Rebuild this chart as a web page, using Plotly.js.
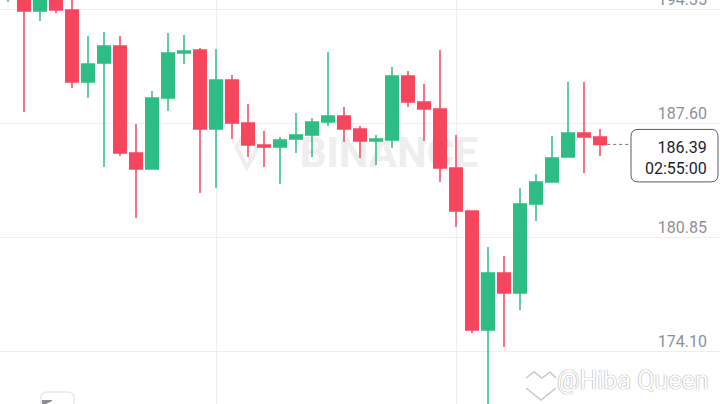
<!DOCTYPE html>
<html>
<head>
<meta charset="utf-8">
<script src="https://cdn.plot.ly/plotly-3.0.1.min.js"></script>
<style>html,body{margin:0;padding:0;background:#fff;}#chart{width:720px;height:404px;}</style>
</head>
<body>
<div id="chart"></div>
<script>
// Candle index (one per 5-minute bar)
const candleIndex = [0,1,2,3,4,5,6,7,8,9,10,11,12,13,14,15,16,17,18,19,20,21,22,23,24,25,26,27,28,29,30,31,32,33,34,35,36,37];
const openPrices  = [195.42,196.13,194.29,195.53,194.35,190.09,191.21,192.22,185.88,184.94,189.14,191.80,191.98,187.30,190.21,187.66,186.36,186.24,186.71,186.95,187.72,188.07,187.30,186.59,186.65,190.44,188.90,188.49,184.99,182.45,175.40,178.78,177.59,182.86,184.17,185.65,187.07,186.83];
const highPrices  = [196.84,196.60,196.01,195.77,195.30,192.81,193.05,192.81,187.60,189.55,192.99,192.87,192.10,192.04,190.50,188.78,187.19,186.83,188.25,187.96,191.86,188.61,187.48,186.95,190.97,190.74,189.97,191.98,186.95,182.45,180.32,179.78,183.81,184.64,186.89,190.09,190.09,187.30];
const lowPrices   = [194.82,188.31,193.70,194.17,189.73,189.14,185.05,185.71,182.03,184.94,188.37,191.15,183.51,183.81,186.71,185.65,185.05,184.05,185.88,185.65,187.48,186.53,185.59,185.17,186.18,188.61,186.59,184.17,181.50,175.22,170.67,174.40,176.59,181.86,184.17,185.65,184.70,185.71];
const closePrices = [196.42,194.29,195.65,194.35,190.09,191.15,192.22,185.88,184.94,189.14,191.80,191.92,187.30,190.21,187.66,186.36,186.24,186.65,186.95,187.72,188.07,187.30,186.59,186.71,190.44,188.90,188.49,184.99,182.45,175.40,178.78,177.59,182.86,184.17,185.59,187.07,186.83,186.39];
const priceTicks = [174.10, 180.85, 187.60, 194.35];
const countdownText = "02:55:00";
const watermarkText = "BINANCE";
const authorText = "@Hiba Queen";

const GREEN = "#2EBD85", RED = "#F6465D";
const lastI = candleIndex.length - 1;
const lastClose = closePrices[lastI];

const trace = {
  type: "candlestick",
  x: candleIndex, open: openPrices, high: highPrices, low: lowPrices, close: closePrices,
  increasing: {line: {color: GREEN, width: 1.5}, fillcolor: GREEN},
  decreasing: {line: {color: RED, width: 1.5}, fillcolor: RED},
  whiskerwidth: 0,
  hoverinfo: "skip",
  showlegend: false
};

function roundRect(x0, y0, x1, y1, r) {
  return `M ${x0+r} ${y0} L ${x1-r} ${y0} Q ${x1} ${y0} ${x1} ${y0-r} L ${x1} ${y1+r} Q ${x1} ${y1} ${x1-r} ${y1} L ${x0+r} ${y1} Q ${x0} ${y1} ${x0} ${y1+r} L ${x0} ${y0-r} Q ${x0} ${y0} ${x0+r} ${y0} Z`;
}

const layout = {
  width: 720, height: 404,
  margin: {l: 0, r: 0, t: 0, b: 0, pad: 0},
  paper_bgcolor: "#ffffff", plot_bgcolor: "#ffffff",
  boxgap: 0.22, boxgroupgap: 0,
  showlegend: false,
  font: {family: "Roboto, sans-serif"},
  xaxis: {
    range: [-0.5, 44.5], rangeslider: {visible: false},
    tickvals: [13, 28], showticklabels: false, ticks: "",
    showgrid: true, gridcolor: "#eeeeee", gridwidth: 1,
    zeroline: false, showline: false, fixedrange: true
  },
  yaxis: {
    range: [171.02, 194.94], side: "right",
    tickvals: priceTicks, ticktext: priceTicks.map(v => v.toFixed(2)),
    ticklabelposition: "inside", ticklabeloverflow: "allow", ticks: "",
    ticklabelstandoff: 10, ticklabelshift: -11,
    tickfont: {family: "Roboto, sans-serif", size: 16, color: "#8c9199"},
    showgrid: true, gridcolor: "#eeeeee", gridwidth: 1,
    zeroline: false, showline: false, fixedrange: true
  },
  shapes: [
    {type: "rect", xref: "paper", yref: "paper", x0: 0.40, x1: 0.68, y0: 0.58, y1: 0.68,
     line: {width: 0}, fillcolor: "rgba(0,0,0,0)", layer: "between",
     label: {text: watermarkText, font: {family: "Roboto, sans-serif", size: 42, color: "#eeeeee", weight: "bold"},
             textposition: "middle center"}},
    {type: "path", xref: "paper", yref: "paper", layer: "between",
     path: "M 0.3285 0.635 L 0.343 0.685 L 0.3575 0.635 L 0.343 0.585 Z",
     line: {color: "#eeeeee", width: 4}, fillcolor: "rgba(0,0,0,0)"},
    {type: "line", xref: "x", yref: "y", x0: lastI + 0.45, x1: lastI + 1.9, y0: lastClose, y1: lastClose,
     line: {color: "#777777", width: 1, dash: "3px,3px"}},
    {type: "path", xref: "paper", yref: "y", xsizemode: "pixel", ysizemode: "pixel",
     xanchor: 1, yanchor: lastClose,
     path: roundRect(-89, 15, -2, -37.5, 7),
     line: {color: "#5a5d63", width: 1}, fillcolor: "#ffffff"},
    {type: "path", xref: "paper", yref: "paper",
     path: "M 0.0569 -0.03 L 0.0569 0.015 Q 0.0569 0.0297 0.0667 0.0297 L 0.0931 0.0297 Q 0.1028 0.0297 0.1028 0.015 L 0.1028 -0.03",
     line: {color: "#e8e8e8", width: 1.5}, fillcolor: "rgba(0,0,0,0)"},
    {type: "path", xref: "paper", yref: "paper",
     path: "M 0.0583 0.0099 L 0.0722 0.0099 L 0.0722 0.0074 L 0.0639 0.0 L 0.0583 0.0 Z",
     line: {width: 0}, fillcolor: "#8a8d93"},
    {type: "path", xref: "paper", yref: "paper",
     path: "M 0.7306 0.0644 L 0.7417 0.0792 L 0.7528 0.0644 L 0.7639 0.0792 L 0.7722 0.0644 M 0.7306 0.0396 L 0.7514 0.0099 L 0.7722 0.0396",
     line: {color: "#c8c8c8", width: 1.5}, fillcolor: "rgba(0,0,0,0)"}
  ],
  annotations: [
    {xref: "paper", yref: "y", x: 1, y: lastClose, xanchor: "right", yanchor: "middle",
     xshift: -11, yshift: -13.5, align: "right", showarrow: false,
     text: lastClose.toFixed(2) + "<br>" + countdownText,
     font: {family: "Roboto, sans-serif", size: 16, color: "#1e2329"}},
    {xref: "paper", yref: "paper", x: 0.771, y: 0.057, xanchor: "left", yanchor: "middle",
     showarrow: false, text: authorText,
     font: {family: "Roboto, sans-serif", size: 25, color: "#ffffff", shadow: "0 0 1px #9a9a9a, 0 0 1px #9a9a9a"}}
  ]
};

Plotly.newPlot("chart", [trace], layout, {staticPlot: true, displayModeBar: false});
</script>
</body>
</html>
